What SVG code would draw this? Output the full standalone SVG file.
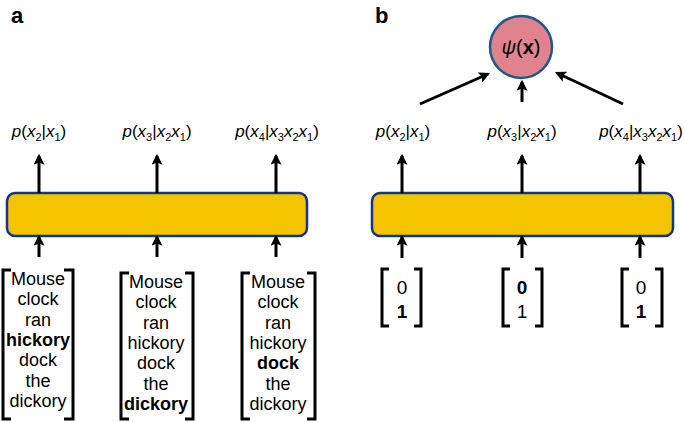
<svg xmlns="http://www.w3.org/2000/svg" width="685" height="422" viewBox="0 0 685 422">
<defs>
<style>
.lbl{font-family:"Liberation Sans",Arial,sans-serif;font-size:17px;fill:#000}
.it{font-style:italic}
.sub{font-size:11px}
.word{font-family:"Liberation Sans",Arial,sans-serif;font-size:18px;fill:#000;text-anchor:middle}
.b{font-weight:bold}
.panel{font-family:"Liberation Sans",Arial,sans-serif;font-size:22px;font-weight:bold;fill:#000}
.box{fill:#f5c400;stroke:#12358a;stroke-width:2.5}
.br{fill:none;stroke:#000;stroke-width:3}
.arr{stroke:#000;stroke-width:3;fill:none;marker-end:url(#ahm)}
</style>
<marker id="ahm" viewBox="0 0 10 10" refX="8" refY="5" markerWidth="11" markerHeight="11" markerUnits="userSpaceOnUse" orient="auto">
<path d="M0,0 L10,5 L0,10 L2,5 Z" fill="#000"/>
</marker>
</defs>

<text class="panel" x="11" y="23">a</text>
<text class="panel" x="375" y="23">b</text>

<g id="modelA"><rect class="box" x="7" y="193" width="300" height="43" rx="8"/></g>
<g id="modelB"><rect class="box" x="372" y="193" width="301" height="43" rx="8"/></g>

<g id="psi">
<circle cx="521" cy="47" r="31" fill="#e0838e" stroke="#1c5a88" stroke-width="2.5"/>
<text class="lbl" x="521" y="54" text-anchor="middle" style="font-size:20px"><tspan class="it">ψ</tspan>(<tspan class="b">x</tspan>)</text>
</g>

<g id="labelsA">
<text class="lbl" x="39" y="137" text-anchor="middle"><tspan class="it">p</tspan>(<tspan class="it">x</tspan><tspan class="sub" dy="4">2</tspan><tspan dy="-4">|</tspan><tspan class="it">x</tspan><tspan class="sub" dy="4">1</tspan><tspan dy="-4">)</tspan></text>
<text class="lbl" x="157" y="137" text-anchor="middle"><tspan class="it">p</tspan>(<tspan class="it">x</tspan><tspan class="sub" dy="4">3</tspan><tspan dy="-4">|</tspan><tspan class="it">x</tspan><tspan class="sub" dy="4">2</tspan><tspan class="it" dy="-4">x</tspan><tspan class="sub" dy="4">1</tspan><tspan dy="-4">)</tspan></text>
<text class="lbl" x="277" y="137" text-anchor="middle"><tspan class="it">p</tspan>(<tspan class="it">x</tspan><tspan class="sub" dy="4">4</tspan><tspan dy="-4">|</tspan><tspan class="it">x</tspan><tspan class="sub" dy="4">3</tspan><tspan class="it" dy="-4">x</tspan><tspan class="sub" dy="4">2</tspan><tspan class="it" dy="-4">x</tspan><tspan class="sub" dy="4">1</tspan><tspan dy="-4">)</tspan></text>
</g>
<g id="labelsB">
<text class="lbl" x="403" y="137" text-anchor="middle"><tspan class="it">p</tspan>(<tspan class="it">x</tspan><tspan class="sub" dy="4">2</tspan><tspan dy="-4">|</tspan><tspan class="it">x</tspan><tspan class="sub" dy="4">1</tspan><tspan dy="-4">)</tspan></text>
<text class="lbl" x="522" y="137" text-anchor="middle"><tspan class="it">p</tspan>(<tspan class="it">x</tspan><tspan class="sub" dy="4">3</tspan><tspan dy="-4">|</tspan><tspan class="it">x</tspan><tspan class="sub" dy="4">2</tspan><tspan class="it" dy="-4">x</tspan><tspan class="sub" dy="4">1</tspan><tspan dy="-4">)</tspan></text>
<text class="lbl" x="641" y="137" text-anchor="middle"><tspan class="it">p</tspan>(<tspan class="it">x</tspan><tspan class="sub" dy="4">4</tspan><tspan dy="-4">|</tspan><tspan class="it">x</tspan><tspan class="sub" dy="4">3</tspan><tspan class="it" dy="-4">x</tspan><tspan class="sub" dy="4">2</tspan><tspan class="it" dy="-4">x</tspan><tspan class="sub" dy="4">1</tspan><tspan dy="-4">)</tspan></text>
</g>

<g id="inputA1">
<path class="br" d="M11,270 H3 V419 H11 M64,270 H73 V419 H64"/>
<text class="word" x="38" y="285">Mouse</text>
<text class="word" x="38" y="305.3">clock</text>
<text class="word" x="38" y="325.6">ran</text>
<text class="word b" x="38" y="345.9">hickory</text>
<text class="word" x="38" y="366.2">dock</text>
<text class="word" x="38" y="386.5">the</text>
<text class="word" x="38" y="406.8">dickory</text>
</g>
<g id="inputA2">
<path class="br" d="M129,273 H121 V419 H129 M185,273 H193 V419 H185"/>
<text class="word" x="156" y="288">Mouse</text>
<text class="word" x="156" y="308.3">clock</text>
<text class="word" x="156" y="328.6">ran</text>
<text class="word" x="156" y="348.9">hickory</text>
<text class="word" x="156" y="369.2">dock</text>
<text class="word" x="156" y="389.5">the</text>
<text class="word b" x="156" y="409.8">dickory</text>
</g>
<g id="inputA3">
<path class="br" d="M250,273 H242 V419 H250 M307,273 H315 V419 H307"/>
<text class="word" x="278" y="288">Mouse</text>
<text class="word" x="278" y="308.3">clock</text>
<text class="word" x="278" y="328.6">ran</text>
<text class="word" x="278" y="348.9">hickory</text>
<text class="word b" x="278" y="369.2">dock</text>
<text class="word" x="278" y="389.5">the</text>
<text class="word" x="278" y="409.8">dickory</text>
</g>

<g id="inputB1">
<path class="br" d="M389,269 H382 V326 H389 M414,269 H421 V326 H414"/>
<text class="word" x="402" y="294" style="font-size:19px">0</text>
<text class="word b" x="402" y="318" style="font-size:19px">1</text>
</g>
<g id="inputB2">
<path class="br" d="M510,269 H503 V326 H510 M535,269 H542 V326 H535"/>
<text class="word b" x="522" y="294" style="font-size:19px">0</text>
<text class="word" x="522" y="318" style="font-size:19px">1</text>
</g>
<g id="inputB3">
<path class="br" d="M629,269 H622 V326 H629 M655,269 H662 V326 H655"/>
<text class="word" x="641" y="294" style="font-size:19px">0</text>
<text class="word b" x="641" y="318" style="font-size:19px">1</text>
</g>

<g id="connectors">
<line class="arr" x1="39" y1="193" x2="39" y2="156"/>
<line class="arr" x1="157" y1="193" x2="157" y2="156"/>
<line class="arr" x1="276" y1="193" x2="276" y2="156"/>
<line class="arr" x1="39" y1="257" x2="39" y2="237"/>
<line class="arr" x1="157" y1="257" x2="157" y2="237"/>
<line class="arr" x1="276" y1="257" x2="276" y2="237"/>
<line class="arr" x1="402" y1="193" x2="402" y2="156"/>
<line class="arr" x1="522" y1="193" x2="522" y2="156"/>
<line class="arr" x1="640" y1="193" x2="640" y2="156"/>
<line class="arr" x1="402" y1="258" x2="402" y2="237"/>
<line class="arr" x1="522" y1="258" x2="522" y2="237"/>
<line class="arr" x1="640" y1="258" x2="640" y2="237"/>
<line class="arr" x1="420" y1="104" x2="488" y2="74"/>
<line class="arr" x1="522" y1="102" x2="522" y2="82"/>
<line class="arr" x1="623" y1="104" x2="557" y2="73"/>
</g>
</svg>
